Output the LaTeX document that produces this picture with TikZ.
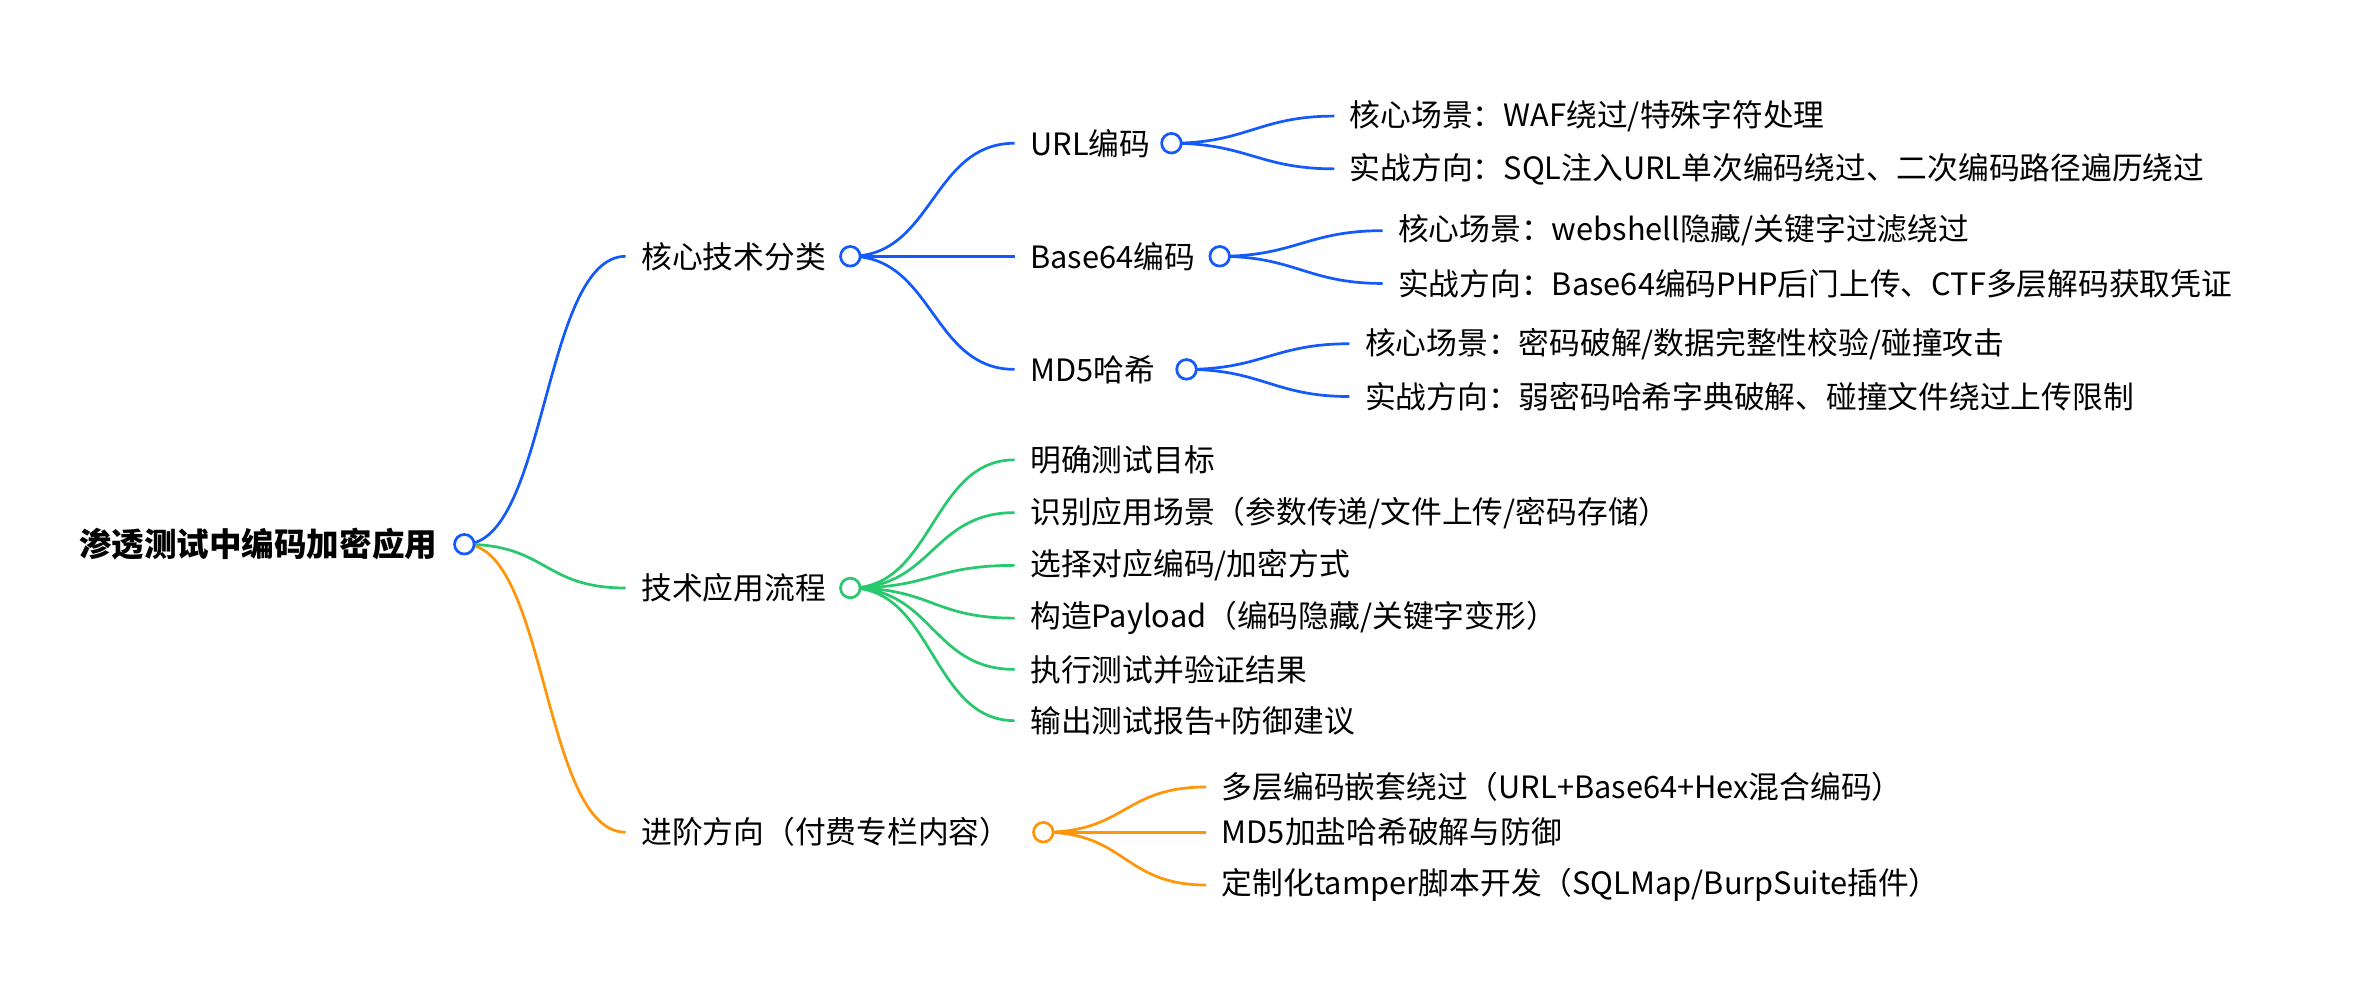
\documentclass[tikz,border=0pt]{standalone}
\usepackage{fontspec}
\setmainfont{Noto Sans CJK SC}
\begin{document}
\begin{tikzpicture}[x=0.5pt,y=-0.5pt,
 txt/.style={anchor=west,inner sep=0pt,font=\fontsize{10.2pt}{12pt}\selectfont},
 dot/.style={circle,draw=#1,fill=white,line width=0.9pt,minimum size=6.5pt,inner sep=0pt},
 ln/.style={draw=#1,line width=0.9pt}]
\definecolor{cb}{RGB}{20,90,250}
\definecolor{cg}{RGB}{40,200,110}
\definecolor{co}{RGB}{255,150,10}
\useasboundingbox[fill=white] (0,0) rectangle (1568,664.5);
% nodes
\node[txt,font=\fontsize{10.8pt}{12pt}\selectfont\bfseries] (r) at (52,361) {渗透测试中编码加密应用};
\node[txt] (a) at (425,170) {核心技术分类};
\node[txt] (b) at (425,390) {技术应用流程};
\node[txt] (c) at (425,552) {进阶方向（付费专栏内容）};
\node[txt] (a1) at (683,95) {URL编码};
\node[txt] (a2) at (683,170) {Base64编码};
\node[txt] (a3) at (683,245) {MD5哈希};
\node[txt] (a11) at (895,77) {核心场景：WAF绕过/特殊字符处理};
\node[txt] (a12) at (895,112) {实战方向：SQL注入URL单次编码绕过、二次编码路径遍历绕过};
\node[txt] (a21) at (927,153) {核心场景：webshell隐藏/关键字过滤绕过};
\node[txt] (a22) at (927,188) {实战方向：Base64编码PHP后门上传、CTF多层解码获取凭证};
\node[txt] (a31) at (905,228) {核心场景：密码破解/数据完整性校验/碰撞攻击};
\node[txt] (a32) at (905,263) {实战方向：弱密码哈希字典破解、碰撞文件绕过上传限制};
\node[txt] (b1) at (683,305) {明确测试目标};
\node[txt] (b2) at (683,340) {识别应用场景（参数传递/文件上传/密码存储）};
\node[txt] (b3) at (683,375) {选择对应编码/加密方式};
\node[txt] (b4) at (683,410) {构造Payload（编码隐藏/关键字变形）};
\node[txt] (b5) at (683,444) {执行测试并验证结果};
\node[txt] (b6) at (683,478) {输出测试报告+防御建议};
\node[txt] (c1) at (810,522) {多层编码嵌套绕过（URL+Base64+Hex混合编码）};
\node[txt] (c2) at (810,552) {MD5加盐哈希破解与防御};
\node[txt] (c3) at (810,587) {定制化tamper脚本开发（SQLMap/BurpSuite插件）};
% dot coordinates
\coordinate (dr) at (308,361);
\coordinate (da) at (564,170);
\coordinate (db) at (564,390);
\coordinate (dc) at (692,552);
\coordinate (da1) at (777,95);
\coordinate (da2) at (809,170);
\coordinate (da3) at (787,245);
% connectors
\foreach \t/\col in {a/cb,b/cg,c/co}
  \draw[ln=\col] (dr) .. controls +(55,0) and +(-55,0) .. ([xshift=-5pt]\t.west);
\foreach \t in {a1,a2,a3}
  \draw[ln=cb] (da) .. controls +(55,0) and +(-55,0) .. ([xshift=-5pt]\t.west);
\foreach \s/\t in {da1/a11,da1/a12,da2/a21,da2/a22,da3/a31,da3/a32}
  \draw[ln=cb] (\s) .. controls +(50,0) and +(-50,0) .. ([xshift=-5pt]\t.west);
\foreach \t in {b1,b2,b3,b4,b5,b6}
  \draw[ln=cg] (db) .. controls +(55,0) and +(-55,0) .. ([xshift=-5pt]\t.west);
\foreach \t in {c1,c2,c3}
  \draw[ln=co] (dc) .. controls +(55,0) and +(-55,0) .. ([xshift=-5pt]\t.west);
% dots
\node[dot=cb] at (dr) {};
\node[dot=cb] at (da) {};
\node[dot=cg] at (db) {};
\node[dot=co] at (dc) {};
\node[dot=cb] at (da1) {};
\node[dot=cb] at (da2) {};
\node[dot=cb] at (da3) {};
\end{tikzpicture}
\end{document}
